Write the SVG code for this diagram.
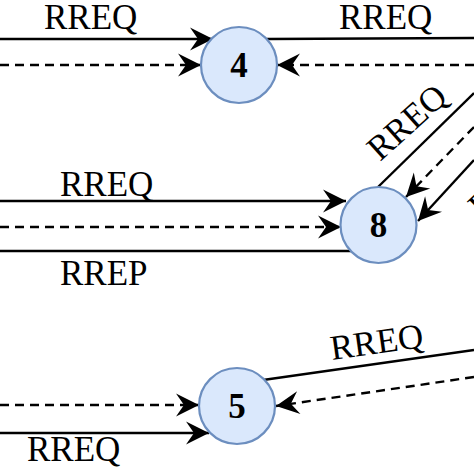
<svg xmlns="http://www.w3.org/2000/svg" width="474" height="474" viewBox="0 0 474 474">
<style>
.ln{stroke:#000;stroke-width:2.4;fill:none}
.ds{stroke:#000;stroke-width:2.4;fill:none;stroke-dasharray:9 6}
.nd{fill:#dae8fc;stroke:#6c8ebf;stroke-width:2.2}
.lb{font-family:"Liberation Serif","Times New Roman",serif;font-size:35px;fill:#000}
.nm{font-family:"Liberation Serif","Times New Roman",serif;font-size:35px;font-weight:bold;fill:#000;text-anchor:middle}
</style>
<defs>
<marker id="ah" markerUnits="userSpaceOnUse" viewBox="-24 -13 25 26" markerWidth="25" markerHeight="26" refX="0" refY="0" orient="auto">
<path d="M0,0 L-23,-11.5 L-15,0 L-23,11.5 Z" fill="#000"/>
</marker>
</defs>
<rect width="474" height="474" fill="#fff"/>
<g id="connectors">
<line class="ln" x1="0" y1="39" x2="213" y2="39" marker-end="url(#ah)"/>
<line class="ln" x1="267" y1="39" x2="474" y2="38"/>
<line class="ds" x1="0" y1="65" x2="201" y2="65" marker-end="url(#ah)"/>
<line class="ds" x1="474" y1="65" x2="277" y2="65" marker-end="url(#ah)"/>
<line class="ln" x1="0" y1="201" x2="346" y2="201" marker-end="url(#ah)"/>
<line class="ds" x1="0" y1="227" x2="341" y2="227" marker-end="url(#ah)"/>
<line class="ln" x1="0" y1="251" x2="351" y2="251"/>
<line class="ln" x1="378" y1="187" x2="474" y2="93"/>
<line class="ds" x1="474" y1="127" x2="406" y2="197" marker-end="url(#ah)"/>
<line class="ln" x1="474" y1="160" x2="418" y2="221" marker-end="url(#ah)"/>
<line class="ln" x1="263" y1="380" x2="474" y2="350"/>
<line class="ds" x1="474" y1="377" x2="276" y2="406" marker-end="url(#ah)"/>
<line class="ds" x1="0" y1="405" x2="199" y2="405" marker-end="url(#ah)"/>
<line class="ln" x1="0" y1="433" x2="209" y2="433" marker-end="url(#ah)"/>
<text class="lb" x="44" y="29">RREQ</text>
<text class="lb" x="339" y="29">RREQ</text>
<text class="lb" x="60" y="196">RREQ</text>
<text class="lb" x="60" y="285">RREP</text>
<text class="lb" transform="translate(380,162) rotate(-42)">RREQ</text>
<text class="lb" transform="translate(482,219) rotate(-44)">RREP</text>
<text class="lb" transform="translate(332,360) rotate(-8)">RREQ</text>
<text class="lb" x="27" y="461">RREQ</text>
</g>
<g id="node4"><circle class="nd" cx="239" cy="65" r="38"/><text class="nm" x="239" y="77">4</text></g>
<g id="node8"><circle class="nd" cx="378.5" cy="225" r="38"/><text class="nm" x="378.5" y="237">8</text></g>
<g id="node5"><circle class="nd" cx="237" cy="406" r="38"/><text class="nm" x="237" y="418">5</text></g>
</svg>
